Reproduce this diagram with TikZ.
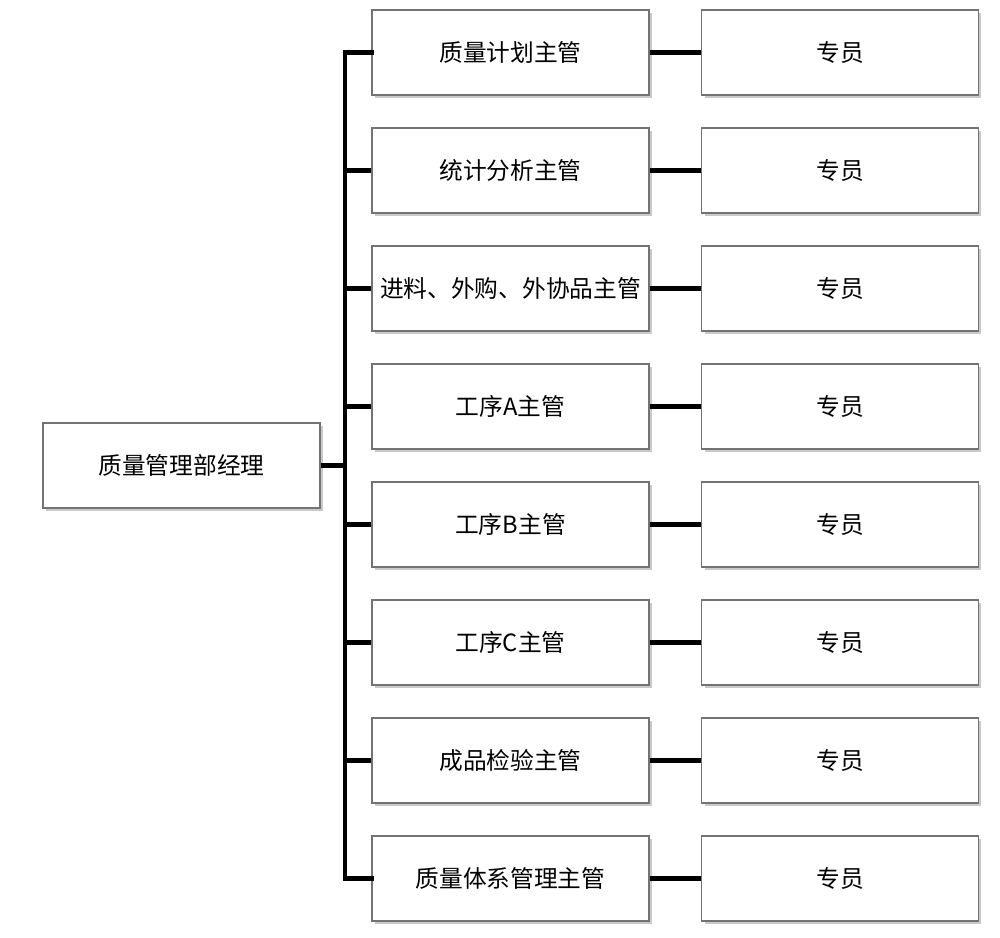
\documentclass[tikz,border=0pt]{standalone}
\usepackage{fontspec}
\newfontfamily\cjk{Noto Sans CJK SC}
\usetikzlibrary{shadows}
\begin{document}
\begin{tikzpicture}[x=0.02cm,y=-0.02cm,
  box/.style={draw=black!55, line width=0.7pt, fill=white, minimum width=5.54cm, minimum height=1.7cm, inner sep=0pt,
    font=\cjk\fontsize{13.5}{15}\selectfont,
    drop shadow={shadow xshift=0.06cm, shadow yshift=-0.06cm, fill=black!35, opacity=0.6}},
  conn/.style={line width=2.8pt, line cap=butt}]
\useasboundingbox[fill=white] (0,0) rectangle (1000,937);
\node[box] (m) at (181.5,465.5) {质量管理部经理};
\foreach \i/\t in {1/质量计划主管,2/统计分析主管,3/进料、外购、外协品主管,4/工序A主管,5/工序B主管,6/工序C主管,7/成品检验主管,8/质量体系管理主管}{
  \node[box] (s\i) at (510.5,{52.5+118*(\i-1)}) {\t};
  \node[box] (e\i) at (840,{52.5+118*(\i-1)}) {专员};
  \draw[conn] (s\i.east) -- (e\i.west);
}
\coordinate (top) at (345,52.5);
\coordinate (bot) at (345,878.5);
\draw[conn, line cap=rect] (s1.west) -- (top) -- (bot) -- (s8.west);
\foreach \i in {2,...,7}{\draw[conn] (s\i.west) -- (s\i.west -| top);}
\draw[conn] (m.east) -- (m.east -| top);
\end{tikzpicture}
\end{document}
